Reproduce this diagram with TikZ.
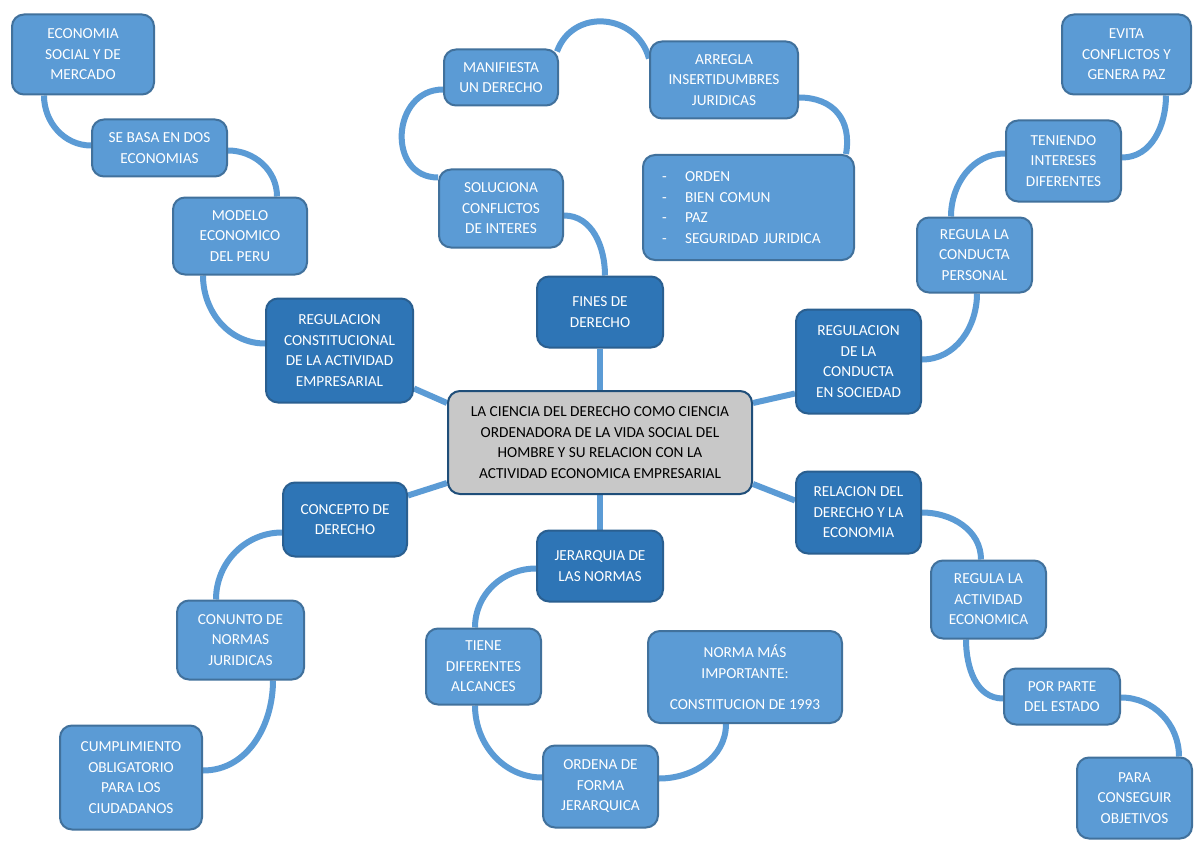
\documentclass[tikz,border=0pt]{standalone}
\usepackage{fontspec}
\setmainfont{Carlito}
\definecolor{lightfill}{HTML}{5B9BD5}
\definecolor{lightborder}{HTML}{41719C}
\definecolor{darkfill}{HTML}{2E75B6}
\definecolor{darkborder}{HTML}{2A5F90}
\definecolor{centerfill}{HTML}{C8C8C8}
\definecolor{centerborder}{HTML}{1F4E79}
\pgfdeclarelayer{back}
\pgfdeclarelayer{bg}
\pgfsetlayers{back,bg,main}
\begin{document}
\begin{tikzpicture}[x=1pt,y=-1pt,
  box/.style={rounded corners=12pt, line width=2pt, text=white, align=center, inner sep=0pt,
    font=\fontsize{15.3}{20.5}\selectfont},
  lightbox/.style={box, fill=lightfill, draw=lightborder},
  darkbox/.style={box, fill=darkfill, draw=darkborder},
  centerbox/.style={box, fill=centerfill, draw=centerborder, text=black},
  conn/.style={draw=lightfill, line width=6pt}
]
\begin{pgfonlayer}{back}
\fill[white] (0,0) rectangle (1200,848);
\end{pgfonlayer}
\useasboundingbox (0,0) rectangle (1200,848);

% center
\node[centerbox, minimum width=304pt, minimum height=103pt] (center) at (600,442.5)
  {LA CIENCIA DEL DERECHO COMO CIENCIA\\ORDENADORA DE LA VIDA SOCIAL DEL\\HOMBRE Y SU RELACION CON LA\\ACTIVIDAD ECONOMICA EMPRESARIAL};

% top-left branch
\node[lightbox, minimum width=142pt, minimum height=80pt] (eco) at (83,54.5) {ECONOMIA\\SOCIAL Y DE\\MERCADO};
\node[lightbox, minimum width=135pt, minimum height=57pt] (basa) at (159.5,148) {SE BASA EN DOS\\ECONOMIAS};
\node[lightbox, minimum width=134pt, minimum height=77pt] (modelo) at (240,236) {MODELO\\ECONOMICO\\DEL PERU};
\node[darkbox, minimum width=147pt, minimum height=104pt] (regcons) at (339.5,350.5) {REGULACION\\CONSTITUCIONAL\\DE LA ACTIVIDAD\\EMPRESARIAL};

% top branch
\node[lightbox, minimum width=114pt, minimum height=56pt] (man) at (501,77.5) {MANIFIESTA\\UN DERECHO};
\node[lightbox, minimum width=148pt, minimum height=77pt] (arr) at (724,80) {ARREGLA\\INSERTIDUMBRES\\JURIDICAS};
\node[lightbox, minimum width=124pt, minimum height=78pt] (sol) at (501,208.5) {SOLUCIONA\\CONFLICTOS\\DE INTERES};
\node[lightbox, minimum width=211pt, minimum height=105pt, text width=173pt, align=left, inner xsep=19pt] (list) at (748.5,207.5)
  {\makebox[23pt][l]{-}ORDEN\\\makebox[23pt][l]{-}BIEN COMUN\\\makebox[23pt][l]{-}PAZ\\\makebox[23pt][l]{-}SEGURIDAD JURIDICA};
\node[darkbox, minimum width=126pt, minimum height=71pt] (fines) at (600,312) {FINES DE\\DERECHO};

% top-right branch
\node[lightbox, minimum width=129pt, minimum height=80pt] (evita) at (1126.5,54.5) {EVITA\\CONFLICTOS Y\\GENERA PAZ};
\node[lightbox, minimum width=115pt, minimum height=81pt] (ten) at (1063.5,161) {TENIENDO\\INTERESES\\DIFERENTES};
\node[lightbox, minimum width=115pt, minimum height=75pt] (regper) at (974.5,255) {REGULA LA\\CONDUCTA\\PERSONAL};
\node[darkbox, minimum width=125pt, minimum height=104pt] (regsoc) at (858.5,361.5) {REGULACION\\DE LA\\CONDUCTA\\EN SOCIEDAD};

% bottom-left branch
\node[darkbox, minimum width=124pt, minimum height=74pt] (concepto) at (345,519.5) {CONCEPTO DE\\DERECHO};
\node[lightbox, minimum width=127pt, minimum height=79pt] (conunto) at (240.5,640) {CONUNTO DE\\NORMAS\\JURIDICAS};
\node[lightbox, minimum width=142pt, minimum height=104pt] (cumpl) at (131,777.5) {CUMPLIMIENTO\\OBLIGATORIO\\PARA LOS\\CIUDADANOS};

% bottom branch
\node[darkbox, minimum width=126pt, minimum height=71pt] (jer) at (600,566) {JERARQUIA DE\\LAS NORMAS};
\node[lightbox, minimum width=115pt, minimum height=76pt] (tiene) at (483.5,666.5) {TIENE\\DIFERENTES\\ALCANCES};
\node[lightbox, minimum width=194pt, minimum height=92pt] (norma) at (745,677) {NORMA MÁS\\IMPORTANTE:\\[10.5pt]CONSTITUCION DE 1993};
\node[lightbox, minimum width=115pt, minimum height=82pt] (ordena) at (600.5,786.5) {ORDENA DE\\FORMA\\JERARQUICA};

% bottom-right branch
\node[darkbox, minimum width=125pt, minimum height=82pt] (relacion) at (858.5,512.5) {RELACION DEL\\DERECHO Y LA\\ECONOMIA};
\node[lightbox, minimum width=115pt, minimum height=78pt] (regact) at (988.5,599.5) {REGULA LA\\ACTIVIDAD\\ECONOMICA};
\node[lightbox, minimum width=116pt, minimum height=56pt] (porparte) at (1062,696.5) {POR PARTE\\DEL ESTADO};
\node[lightbox, minimum width=115pt, minimum height=81pt] (para) at (1134.5,798) {PARA\\CONSEGUIR\\OBJETIVOS};

\begin{pgfonlayer}{bg}
% top-left
\draw[conn] ([xshift=33pt]eco.south west) to[out=-90,in=180] ([yshift=2.5pt]basa.west);
\draw[conn] ([yshift=-2.5pt]basa.east) to[out=0,in=90] ([xshift=37pt]modelo.north);
\draw[conn] ([xshift=-37pt]modelo.south) to[out=-90,in=180] ([yshift=7pt]regcons.west);
\draw[conn] ([yshift=-38pt]regcons.east) -- ([yshift=39.5pt]center.west);
% top
\draw[conn] (fines.south) -- (center.north);
\draw[conn] ([yshift=-7pt]sol.east) to[out=0,in=90] ([xshift=5pt]fines.north);
\draw[conn] ([yshift=-12pt]man.west) to[out=180,in=180,looseness=1.5] ([yshift=31pt]sol.west);
\draw[conn] ([xshift=-2pt,yshift=-3pt]man.north east) to[out=70,in=105,looseness=1.3] ([yshift=21.5pt]arr.west);
\draw[conn] ([yshift=-17.5pt]arr.east) to[out=0,in=80,looseness=1.2] ([xshift=-9pt]list.north east);
% top-right
\draw[conn] ([xshift=-26pt]evita.south east) to[out=-90,in=0] ([yshift=3.5pt]ten.east);
\draw[conn] ([yshift=7.5pt]ten.west) to[out=180,in=90] ([xshift=35pt]regper.north west);
\draw[conn] ([xshift=2.5pt]regper.south) to[out=-90,in=0] ([yshift=2pt]regsoc.east);
\draw[conn] ([yshift=-32pt]regsoc.west) -- ([yshift=39.5pt]center.east);
% bottom-left
\draw[conn] ([yshift=24pt]concepto.east) -- ([yshift=-40.5pt]center.west);
\draw[conn] ([yshift=-13pt]concepto.west) to[out=180,in=90] ([xshift=40pt]conunto.north west);
\draw[conn] ([xshift=-32pt]conunto.south east) to[out=-90,in=0] ([yshift=7pt]cumpl.east);
% bottom
\draw[conn] (center.south) -- (jer.north);
\draw[conn] ([yshift=-2.5pt]jer.west) to[out=180,in=90] ([xshift=50pt]tiene.north west);
\draw[conn] ([xshift=50pt]tiene.south west) to[out=-90,in=180] ([yshift=9pt]ordena.west);
\draw[conn] ([xshift=79pt]norma.south west) to[out=-90,in=0] ([yshift=8pt]ordena.east);
% bottom-right
\draw[conn] ([yshift=-41.5pt]center.east) -- ([yshift=12pt]relacion.west);
\draw[conn] (relacion.east) to[out=0,in=90] ([xshift=51pt]regact.north west);
\draw[conn] ([xshift=36pt]regact.south west) to[out=-90,in=180] ([yshift=-2pt]porparte.west);
\draw[conn] ([yshift=-1pt]porparte.east) to[out=0,in=90] ([xshift=-14pt]para.north east);
\end{pgfonlayer}
\end{tikzpicture}
\end{document}
